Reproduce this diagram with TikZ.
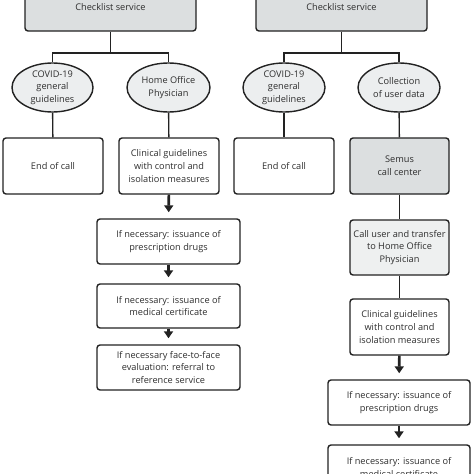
\documentclass[tikz,border=0pt]{standalone}
\usepackage{fontspec}
\setmainfont{Open Sans}
\usepackage{xcolor}
\usetikzlibrary{calc, positioning, arrows.meta, shapes.geometric}
\definecolor{boxgray}{HTML}{DCDFE0}
\definecolor{ovalgray}{HTML}{ECEEEF}
\definecolor{lightgray}{HTML}{EEF0F0}
\definecolor{inkgray}{HTML}{2E2E2E}
\definecolor{edgegray}{HTML}{222222}

\begin{document}
\begin{tikzpicture}[x=1pt, y=-1pt,
    every node/.style={font=\fontsize{9.2}{12.6}\selectfont, text=inkgray, align=center},
    box/.style={draw=edgegray, line width=1.4pt, rounded corners=3pt, inner sep=2pt},
    oval/.style={ellipse, draw=edgegray, line width=1.4pt, fill=ovalgray, inner sep=0pt, minimum height=49pt},
    link/.style={draw=edgegray, line width=1.4pt},
    arr/.style={draw=edgegray, line width=2.6pt, shorten >=6pt, -{Triangle[width=9pt,length=7pt]}}]
      \clip (0,0) rectangle (474,474);
      % nodes left %
      \node[box, fill=boxgray, minimum width=171pt, minimum height=48pt] (chkl) at (110.5,7) {Checklist service};
      \node[oval, minimum width=81pt] (covl) at (52.5,87.5) {COVID-19\\general\\guidelines};
      \node[oval, minimum width=83pt] (homl) at (168.5,87.5) {Home Office\\Physician};
      \node[box, minimum width=100pt, minimum height=56pt] (endl) at (53,166) {End of call};
      \node[box, minimum width=100pt, minimum height=56pt] (clil) at (169,166) {Clinical guidelines\\with control and\\isolation measures};
      \node[box, minimum width=143pt, minimum height=45pt] (prel) at (168.5,241.5) {If necessary: issuance of\\prescription drugs};
      \node[box, minimum width=143pt, minimum height=44pt] (medl) at (168.5,306) {If necessary: issuance of\\medical certificate};
      \node[box, minimum width=143pt, minimum height=45pt] (facel) at (168.5,367.5) {If necessary face-to-face\\evaluation: referral to\\reference service};
      % nodes right %
      \node[box, fill=boxgray, minimum width=171pt, minimum height=48pt] (chkr) at (341.5,7) {Checklist service};
      \node[oval, minimum width=82pt] (covr) at (284,87.5) {COVID-19\\general\\guidelines};
      \node[oval, minimum width=82pt] (colr) at (399,87.5) {Collection\\of user data};
      \node[box, minimum width=100pt, minimum height=56pt] (endr) at (284,166) {End of call};
      \node[box, fill=boxgray, minimum width=99pt, minimum height=56pt] (semr) at (399.5,166) {Semus\\call center};
      \node[box, fill=lightgray, minimum width=99pt, minimum height=55pt] (calr) at (399.5,247.5) {Call user and transfer\\to Home Office\\Physician};
      \node[box, minimum width=99pt, minimum height=56pt] (clir) at (399.5,327) {Clinical guidelines\\with control and\\isolation measures};
      \node[box, minimum width=142pt, minimum height=45pt] (prer) at (399,402.5) {If necessary: issuance of\\prescription drugs};
      \node[box, minimum width=142pt, minimum height=45pt] (medr) at (399,467.5) {If necessary: issuance of\\medical certificate};
      \coordinate (jl) at (110.5,53);
      \coordinate (jr) at (341.5,53);
      % edges left %
      \draw[link] (chkl) -- (jl);
      \draw[link] (jl) -| (covl.north);
      \draw[link] (jl) -| (homl.north);
      \draw[link] (covl) -- (endl);
      \draw[link] (homl) -- (clil);
      \draw[arr] (clil) -- (prel);
      \draw[arr] (prel) -- (medl);
      \draw[arr] (medl) -- (facel);
      % edges right %
      \draw[link] (chkr) -- (jr);
      \draw[link] (jr) -| (covr.north);
      \draw[link] (jr) -| (colr.north);
      \draw[link] (covr) -- (endr);
      \draw[link] (colr) -- (semr);
      \draw[link] (semr) -- (calr);
      \draw[link] (calr) -- (clir);
      \draw[arr] (clir) -- (prer);
      \draw[arr] (prer) -- (medr);
    \end{tikzpicture}
\end{document}
